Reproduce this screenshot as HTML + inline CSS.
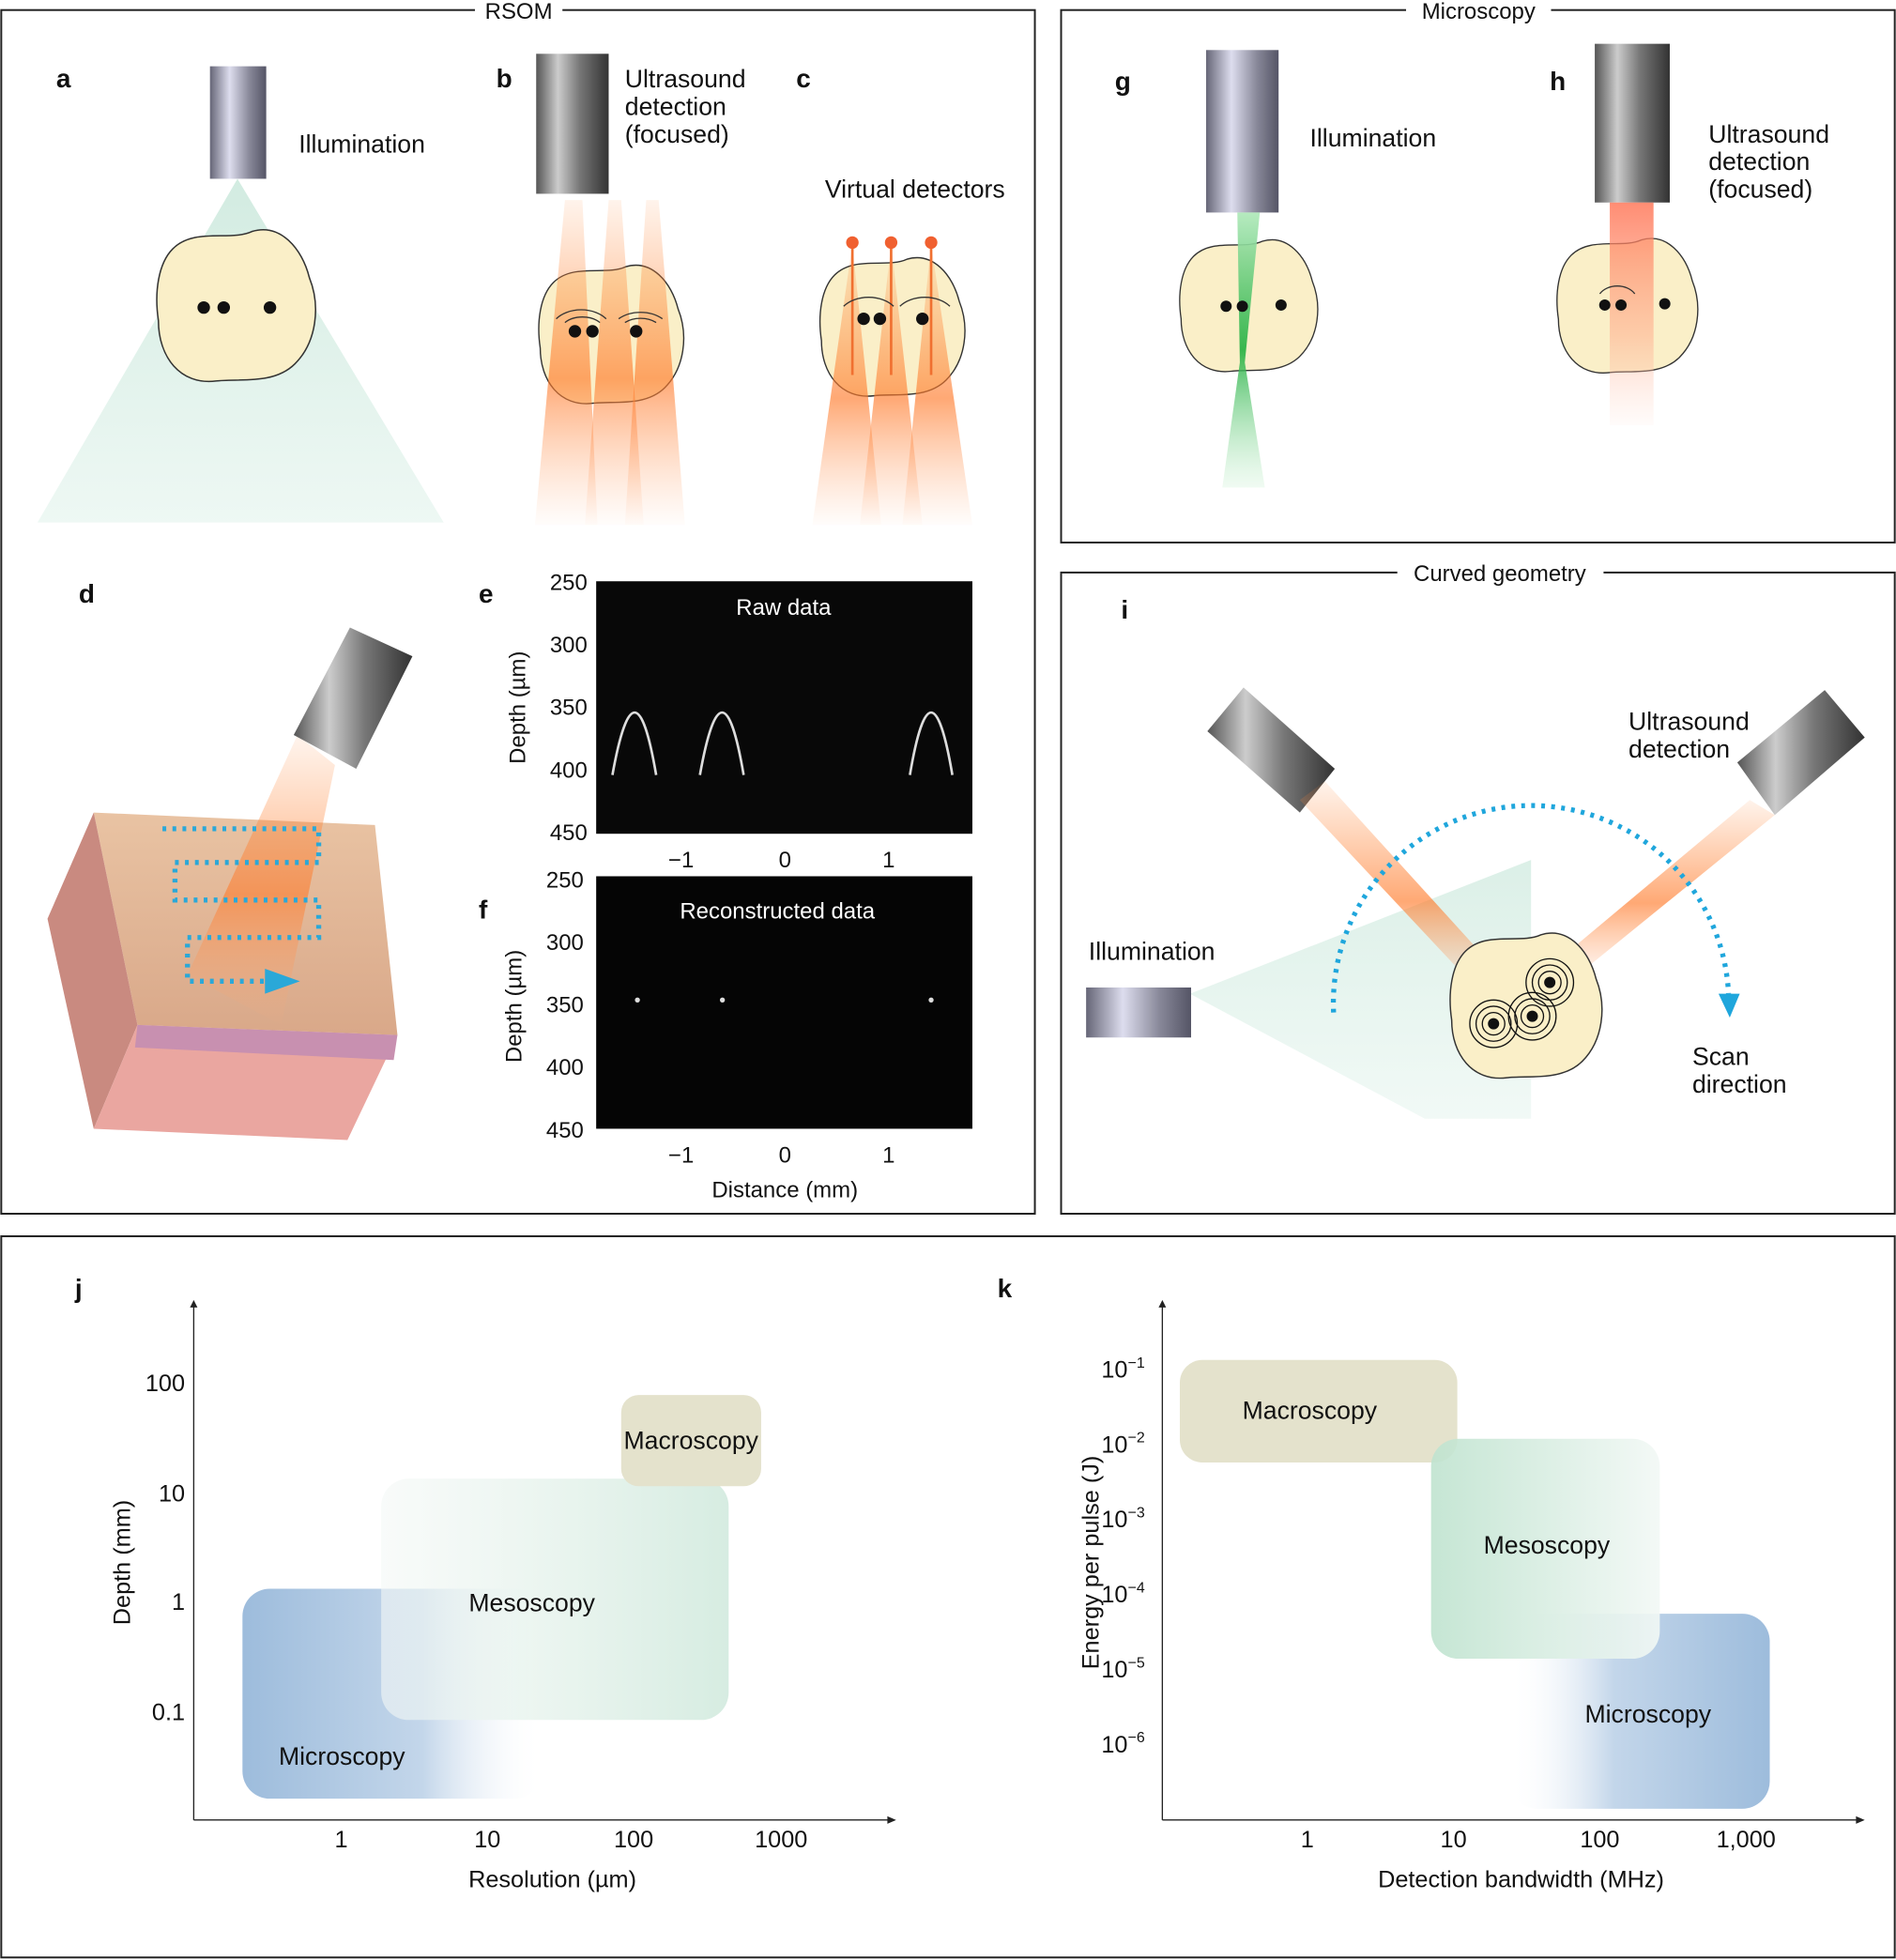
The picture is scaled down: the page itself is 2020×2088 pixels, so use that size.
<!DOCTYPE html>
<html><head><meta charset="utf-8"><style>
html,body{margin:0;padding:0;background:#fff}
svg{display:block}
text{font-family:"Liberation Sans",sans-serif;fill:#111}
</style></head><body>
<svg width="2020" height="2088" viewBox="0 0 1517 1568" xmlns="http://www.w3.org/2000/svg">
<defs>
<linearGradient id="metal" x1="0" x2="1"><stop offset="0" stop-color="#555"/><stop offset=".3" stop-color="#ccc"/><stop offset=".6" stop-color="#777"/><stop offset="1" stop-color="#333"/></linearGradient>
<linearGradient id="metalb" x1="0" x2="1"><stop offset="0" stop-color="#667"/><stop offset=".35" stop-color="#dde"/><stop offset=".7" stop-color="#889"/><stop offset="1" stop-color="#556"/></linearGradient>
<linearGradient id="cone" x1="0" y1="0" x2="0" y2="1"><stop offset="0" stop-color="#bfe3d4" stop-opacity=".7"/><stop offset="1" stop-color="#e2f3ec" stop-opacity=".6"/></linearGradient>
<linearGradient id="beam" x1="0" y1="0" x2="0" y2="1"><stop offset="0" stop-color="#ff8a3c" stop-opacity=".1"/><stop offset=".55" stop-color="#ff7a2a" stop-opacity=".65"/><stop offset="1" stop-color="#ffb080" stop-opacity=".03"/></linearGradient>
<linearGradient id="greenb" x1="0" y1="0" x2="0" y2="1"><stop offset="0" stop-color="#aee8b8"/><stop offset=".5" stop-color="#22b040"/><stop offset="1" stop-color="#c8f0d0" stop-opacity=".3"/></linearGradient>
<linearGradient id="redb" x1="0" y1="0" x2="0" y2="1"><stop offset="0" stop-color="#ff7050"/><stop offset=".6" stop-color="#ffb090" stop-opacity=".7"/><stop offset="1" stop-color="#ffd0c0" stop-opacity=".1"/></linearGradient>
<linearGradient id="blueR" x1="0" x2="1"><stop offset="0" stop-color="#9dbcdc"/><stop offset=".6" stop-color="#c3d6ea"/><stop offset="1" stop-color="#fff" stop-opacity="0"/></linearGradient>
<linearGradient id="greenR" x1="0" x2="1"><stop offset="0" stop-color="#f4f8f6" stop-opacity=".7"/><stop offset="1" stop-color="#cfe9dc"/></linearGradient>
<linearGradient id="blueK" x1="0" x2="1"><stop offset="0" stop-color="#fff" stop-opacity="0"/><stop offset=".4" stop-color="#c3d6ea"/><stop offset="1" stop-color="#9dbcdc"/></linearGradient>
<linearGradient id="greenK" x1="0" x2="1"><stop offset="0" stop-color="#bfe3cf"/><stop offset="1" stop-color="#f2f8f5"/></linearGradient>
<linearGradient id="skin" x1="0" y1="0" x2="0" y2="1"><stop offset="0" stop-color="#e9c3a3"/><stop offset="1" stop-color="#d9a889"/></linearGradient>
<path id="blob" d="M-45,-40 C-30,-55 -5,-45 10,-52 C30,-58 45,-40 50,-20 C58,0 55,25 40,40 C25,55 0,50 -15,52 C-40,55 -55,35 -55,10 C-58,-10 -55,-30 -45,-40Z"/>
</defs>

<rect x="1" y="8" width="827" height="963" fill="none" stroke="#222" stroke-width="1.5"/>
<rect x="849" y="8" width="667" height="426" fill="none" stroke="#222" stroke-width="1.5"/>
<rect x="849" y="458" width="667" height="513" fill="none" stroke="#222" stroke-width="1.5"/>
<rect x="1" y="989" width="1515" height="577" fill="none" stroke="#222" stroke-width="1.5"/>
<rect x="380" y="0" width="70" height="16" fill="#fff"/><text x="415" y="15" font-size="18" text-anchor="middle">RSOM</text>
<rect x="1125" y="0" width="116" height="16" fill="#fff"/><text x="1183" y="15" font-size="18" text-anchor="middle">Microscopy</text>
<rect x="1118" y="450" width="165" height="16" fill="#fff"/><text x="1200" y="465" font-size="18" text-anchor="middle">Curved geometry</text>

<text x="45" y="70" font-size="21" font-weight="bold">a</text>
<polygon points="190,143 30,418 355,418" fill="url(#cone)"/>
<rect x="168" y="53" width="45" height="90" fill="url(#metalb)"/>
<text x="239" y="122" font-size="20">Illumination</text>
<use href="#blob" transform="translate(190,245) scale(1.15)" fill="#faefc8" stroke="#333" stroke-width="1"/>
<circle cx="163" cy="246" r="5" fill="#111"/><circle cx="179" cy="246" r="5" fill="#111"/><circle cx="216" cy="246" r="5" fill="#111"/>

<text x="397" y="70" font-size="21" font-weight="bold">b</text>
<rect x="429" y="43" width="58" height="112" fill="url(#metal)"/>
<text x="500" y="70" font-size="20">Ultrasound</text><text x="500" y="92" font-size="20">detection</text><text x="500" y="114" font-size="20">(focused)</text>
<use href="#blob" transform="translate(490,268) scale(1.05)" fill="#faefc8" stroke="#333"/>
<polygon points="452,160 466,160 478,420 428,420" fill="url(#beam)"/>
<polygon points="487,160 497,160 515,420 468,420" fill="url(#beam)"/>
<polygon points="517,160 527,160 548,420 500,420" fill="url(#beam)"/>
<circle cx="460" cy="265" r="5" fill="#111"/><circle cx="474" cy="265" r="5" fill="#111"/><circle cx="509" cy="265" r="5" fill="#111"/>
<path d="M445,255 a25,18 0 0 1 40,0 M452,258 a18,12 0 0 1 28,0 M495,255 a25,18 0 0 1 35,0 M500,258 a18,12 0 0 1 25,0" fill="none" stroke="#333"/>

<text x="637" y="70" font-size="21" font-weight="bold">c</text>
<text x="660" y="158" font-size="20">Virtual detectors</text>
<use href="#blob" transform="translate(715,262) scale(1.05)" fill="#faefc8" stroke="#333"/>
<polygon points="682,195 650,420 705,420" fill="url(#beam)"/>
<polygon points="713,195 688,420 738,420" fill="url(#beam)"/>
<polygon points="745,195 722,420 778,420" fill="url(#beam)"/>
<line x1="682" y1="195" x2="682" y2="300" stroke="#f07030" stroke-width="2"/>
<line x1="713" y1="195" x2="713" y2="300" stroke="#f07030" stroke-width="2"/>
<line x1="745" y1="195" x2="745" y2="300" stroke="#f07030" stroke-width="2"/>
<circle cx="682" cy="194" r="5" fill="#f06030"/><circle cx="713" cy="194" r="5" fill="#f06030"/><circle cx="745" cy="194" r="5" fill="#f06030"/>
<circle cx="691" cy="255" r="5" fill="#111"/><circle cx="704" cy="255" r="5" fill="#111"/><circle cx="738" cy="255" r="5" fill="#111"/>
<path d="M675,245 a25,18 0 0 1 40,0 M720,245 a25,18 0 0 1 40,0" fill="none" stroke="#333"/>

<text x="63" y="482" font-size="21" font-weight="bold">d</text>
<polygon points="75,650 300,660 318,828 110,820" fill="url(#skin)"/>
<polygon points="75,650 110,820 75,903 38,735" fill="#c98a80"/>
<polygon points="110,820 318,828 278,912 75,903" fill="#eaa6a0"/>
<polygon points="110,820 318,828 315,848 108,838" fill="#c890b0"/>
<polygon points="238,588 268,612 225,820 150,780" fill="url(#beam)" opacity=".9"/>
<polygon points="235,588 280,502 330,525 285,615" fill="url(#metal)"/>
<path d="M130,663 H255 V690 H140 V720 H255 V750 H150 V785 H225" fill="none" stroke="#2aa8d8" stroke-width="4" stroke-dasharray="3,5"/>
<polygon points="212,775 240,785 212,795" fill="#2aa8d8"/>

<text x="383" y="482" font-size="21" font-weight="bold">e</text>
<rect x="477" y="465" width="301" height="202" fill="#080808"/>
<text x="627" y="492" font-size="18" text-anchor="middle" style="fill:#fff">Raw data</text>
<path d="M490,620 Q508,520 525,620 M560,620 Q578,520 595,620 M728,620 Q745,520 762,620" fill="none" stroke="#ddd" stroke-width="2"/>
<g font-size="18" text-anchor="end"><text x="470" y="472">250</text><text x="470" y="522">300</text><text x="470" y="572">350</text><text x="470" y="622">400</text><text x="470" y="672">450</text></g>
<text transform="translate(420,566) rotate(-90)" font-size="18" text-anchor="middle">Depth (µm)</text>
<g font-size="18" text-anchor="middle"><text x="545" y="694">−1</text><text x="628" y="694">0</text><text x="711" y="694">1</text></g>
<text x="383" y="735" font-size="21" font-weight="bold">f</text>
<rect x="477" y="701" width="301" height="202" fill="#050505"/>
<text x="622" y="735" font-size="18" text-anchor="middle" style="fill:#fff">Reconstructed data</text>
<circle cx="510" cy="800" r="2" fill="#ddd"/><circle cx="578" cy="800" r="2" fill="#ddd"/><circle cx="745" cy="800" r="2" fill="#ddd"/>
<g font-size="18" text-anchor="end"><text x="467" y="710">250</text><text x="467" y="760">300</text><text x="467" y="810">350</text><text x="467" y="860">400</text><text x="467" y="910">450</text></g>
<text transform="translate(417,805) rotate(-90)" font-size="18" text-anchor="middle">Depth (µm)</text>
<g font-size="18" text-anchor="middle"><text x="545" y="930">−1</text><text x="628" y="930">0</text><text x="711" y="930">1</text><text x="628" y="958">Distance (mm)</text></g>

<text x="892" y="72" font-size="21" font-weight="bold">g</text>
<rect x="965" y="40" width="58" height="130" fill="url(#metalb)"/>
<text x="1048" y="117" font-size="20">Illumination</text>
<use href="#blob" transform="translate(1000,245) scale(1)" fill="#faefc8" stroke="#333"/>
<polygon points="990,170 1008,170 996,290 1012,390 978,390 992,290" fill="url(#greenb)" opacity=".9"/>
<circle cx="981" cy="245" r="4.5" fill="#111"/><circle cx="994" cy="245" r="4.5" fill="#111"/><circle cx="1025" cy="244" r="4.5" fill="#111"/>
<text x="1240" y="72" font-size="21" font-weight="bold">h</text>
<rect x="1276" y="35" width="60" height="127" fill="url(#metal)"/>
<text x="1367" y="114" font-size="20">Ultrasound</text><text x="1367" y="136" font-size="20">detection</text><text x="1367" y="158" font-size="20">(focused)</text>
<use href="#blob" transform="translate(1303,245) scale(1.02)" fill="#faefc8" stroke="#333"/>
<rect x="1288" y="162" width="35" height="178" fill="url(#redb)" opacity=".8"/>
<circle cx="1284" cy="244" r="4.5" fill="#111"/><circle cx="1297" cy="244" r="4.5" fill="#111"/><circle cx="1332" cy="243" r="4.5" fill="#111"/>
<path d="M1280,235 a16,12 0 0 1 28,0" fill="none" stroke="#333"/>

<text x="897" y="495" font-size="21" font-weight="bold">i</text>
<polygon points="952,795 1225,688 1225,895 1140,895" fill="url(#cone)" opacity=".8"/>
<rect x="869" y="790" width="84" height="40" fill="url(#metalb)"/>
<text x="871" y="768" font-size="20">Illumination</text>
<polygon points="966,585 995,550 1068,615 1040,650" fill="url(#metal)"/>
<polygon points="1390,610 1460,552 1492,590 1420,652" fill="url(#metal)"/>
<polygon points="1040,640 1060,625 1210,790 1190,800" fill="url(#beam)"/>
<polygon points="1400,640 1420,652 1250,790 1235,778" fill="url(#beam)"/>
<path d="M1067,810 A157,157 0 0 1 1383,795" fill="none" stroke="#1fa6dc" stroke-width="4" stroke-dasharray="3,5"/>
<polygon points="1375,795 1392,795 1384,814" fill="#1fa6dc"/>
<use href="#blob" transform="translate(1222,805) scale(1.1)" fill="#faefc8" stroke="#333"/>
<g fill="none" stroke="#111" stroke-width="1"><circle cx="1195" cy="819" r="9"/><circle cx="1195" cy="819" r="14"/><circle cx="1195" cy="819" r="19"/><circle cx="1226" cy="813" r="9"/><circle cx="1226" cy="813" r="14"/><circle cx="1226" cy="813" r="19"/><circle cx="1240" cy="786" r="9"/><circle cx="1240" cy="786" r="14"/><circle cx="1240" cy="786" r="19"/></g>
<circle cx="1195" cy="819" r="4.5" fill="#111"/><circle cx="1226" cy="813" r="4.5" fill="#111"/><circle cx="1240" cy="786" r="4.5" fill="#111"/>
<text x="1303" y="584" font-size="20">Ultrasound</text><text x="1303" y="606" font-size="20">detection</text>
<text x="1354" y="852" font-size="20">Scan</text><text x="1354" y="874" font-size="20">direction</text>

<text x="60" y="1038" font-size="21" font-weight="bold">j</text>
<line x1="155" y1="1456" x2="155" y2="1042" stroke="#222"/><polygon points="152,1046 158,1046 155,1040" fill="#222"/>
<line x1="155" y1="1456" x2="713" y2="1456" stroke="#222"/><polygon points="710,1453 710,1459 717,1456" fill="#222"/>
<rect x="194" y="1271" width="240" height="168" rx="22" fill="url(#blueR)"/>
<rect x="305" y="1183" width="278" height="193" rx="22" fill="url(#greenR)" opacity=".85"/>
<rect x="497" y="1116" width="112" height="73" rx="14" fill="#e4e2cc"/>
<g font-size="20"><text x="499" y="1159">Macroscopy</text><text x="375" y="1289">Mesoscopy</text><text x="223" y="1412">Microscopy</text></g>
<g font-size="19" text-anchor="end"><text x="148" y="1113">100</text><text x="148" y="1201">10</text><text x="148" y="1288">1</text><text x="148" y="1376">0.1</text></g>
<g font-size="19" text-anchor="middle"><text x="273" y="1478">1</text><text x="390" y="1478">10</text><text x="507" y="1478">100</text><text x="625" y="1478">1000</text><text x="442" y="1510">Resolution (µm)</text></g>
<text transform="translate(104,1250) rotate(-90)" font-size="19" text-anchor="middle">Depth (mm)</text>

<text x="798" y="1038" font-size="21" font-weight="bold">k</text>
<line x1="930" y1="1456" x2="930" y2="1042" stroke="#222"/><polygon points="927,1046 933,1046 930,1040" fill="#222"/>
<line x1="930" y1="1456" x2="1488" y2="1456" stroke="#222"/><polygon points="1485,1453 1485,1459 1492,1456" fill="#222"/>
<rect x="944" y="1088" width="222" height="82" rx="18" fill="#e4e2cc"/>
<rect x="1208" y="1291" width="208" height="156" rx="22" fill="url(#blueK)"/>
<rect x="1145" y="1151" width="183" height="176" rx="22" fill="url(#greenK)" opacity=".9"/>
<g font-size="20"><text x="994" y="1135">Macroscopy</text><text x="1187" y="1243">Mesoscopy</text><text x="1268" y="1378">Microscopy</text></g>
<g font-size="19" text-anchor="end"><text x="916" y="1102">10<tspan font-size="12" dy="-8">−1</tspan></text><text x="916" y="1162">10<tspan font-size="12" dy="-8">−2</tspan></text><text x="916" y="1222">10<tspan font-size="12" dy="-8">−3</tspan></text><text x="916" y="1282">10<tspan font-size="12" dy="-8">−4</tspan></text><text x="916" y="1342">10<tspan font-size="12" dy="-8">−5</tspan></text><text x="916" y="1402">10<tspan font-size="12" dy="-8">−6</tspan></text></g>
<g font-size="19" text-anchor="middle"><text x="1046" y="1478">1</text><text x="1163" y="1478">10</text><text x="1280" y="1478">100</text><text x="1397" y="1478">1,000</text><text x="1217" y="1510">Detection bandwidth (MHz)</text></g>
<text transform="translate(879,1250) rotate(-90)" font-size="19" text-anchor="middle">Energy per pulse (J)</text>
</svg>
</body></html>
